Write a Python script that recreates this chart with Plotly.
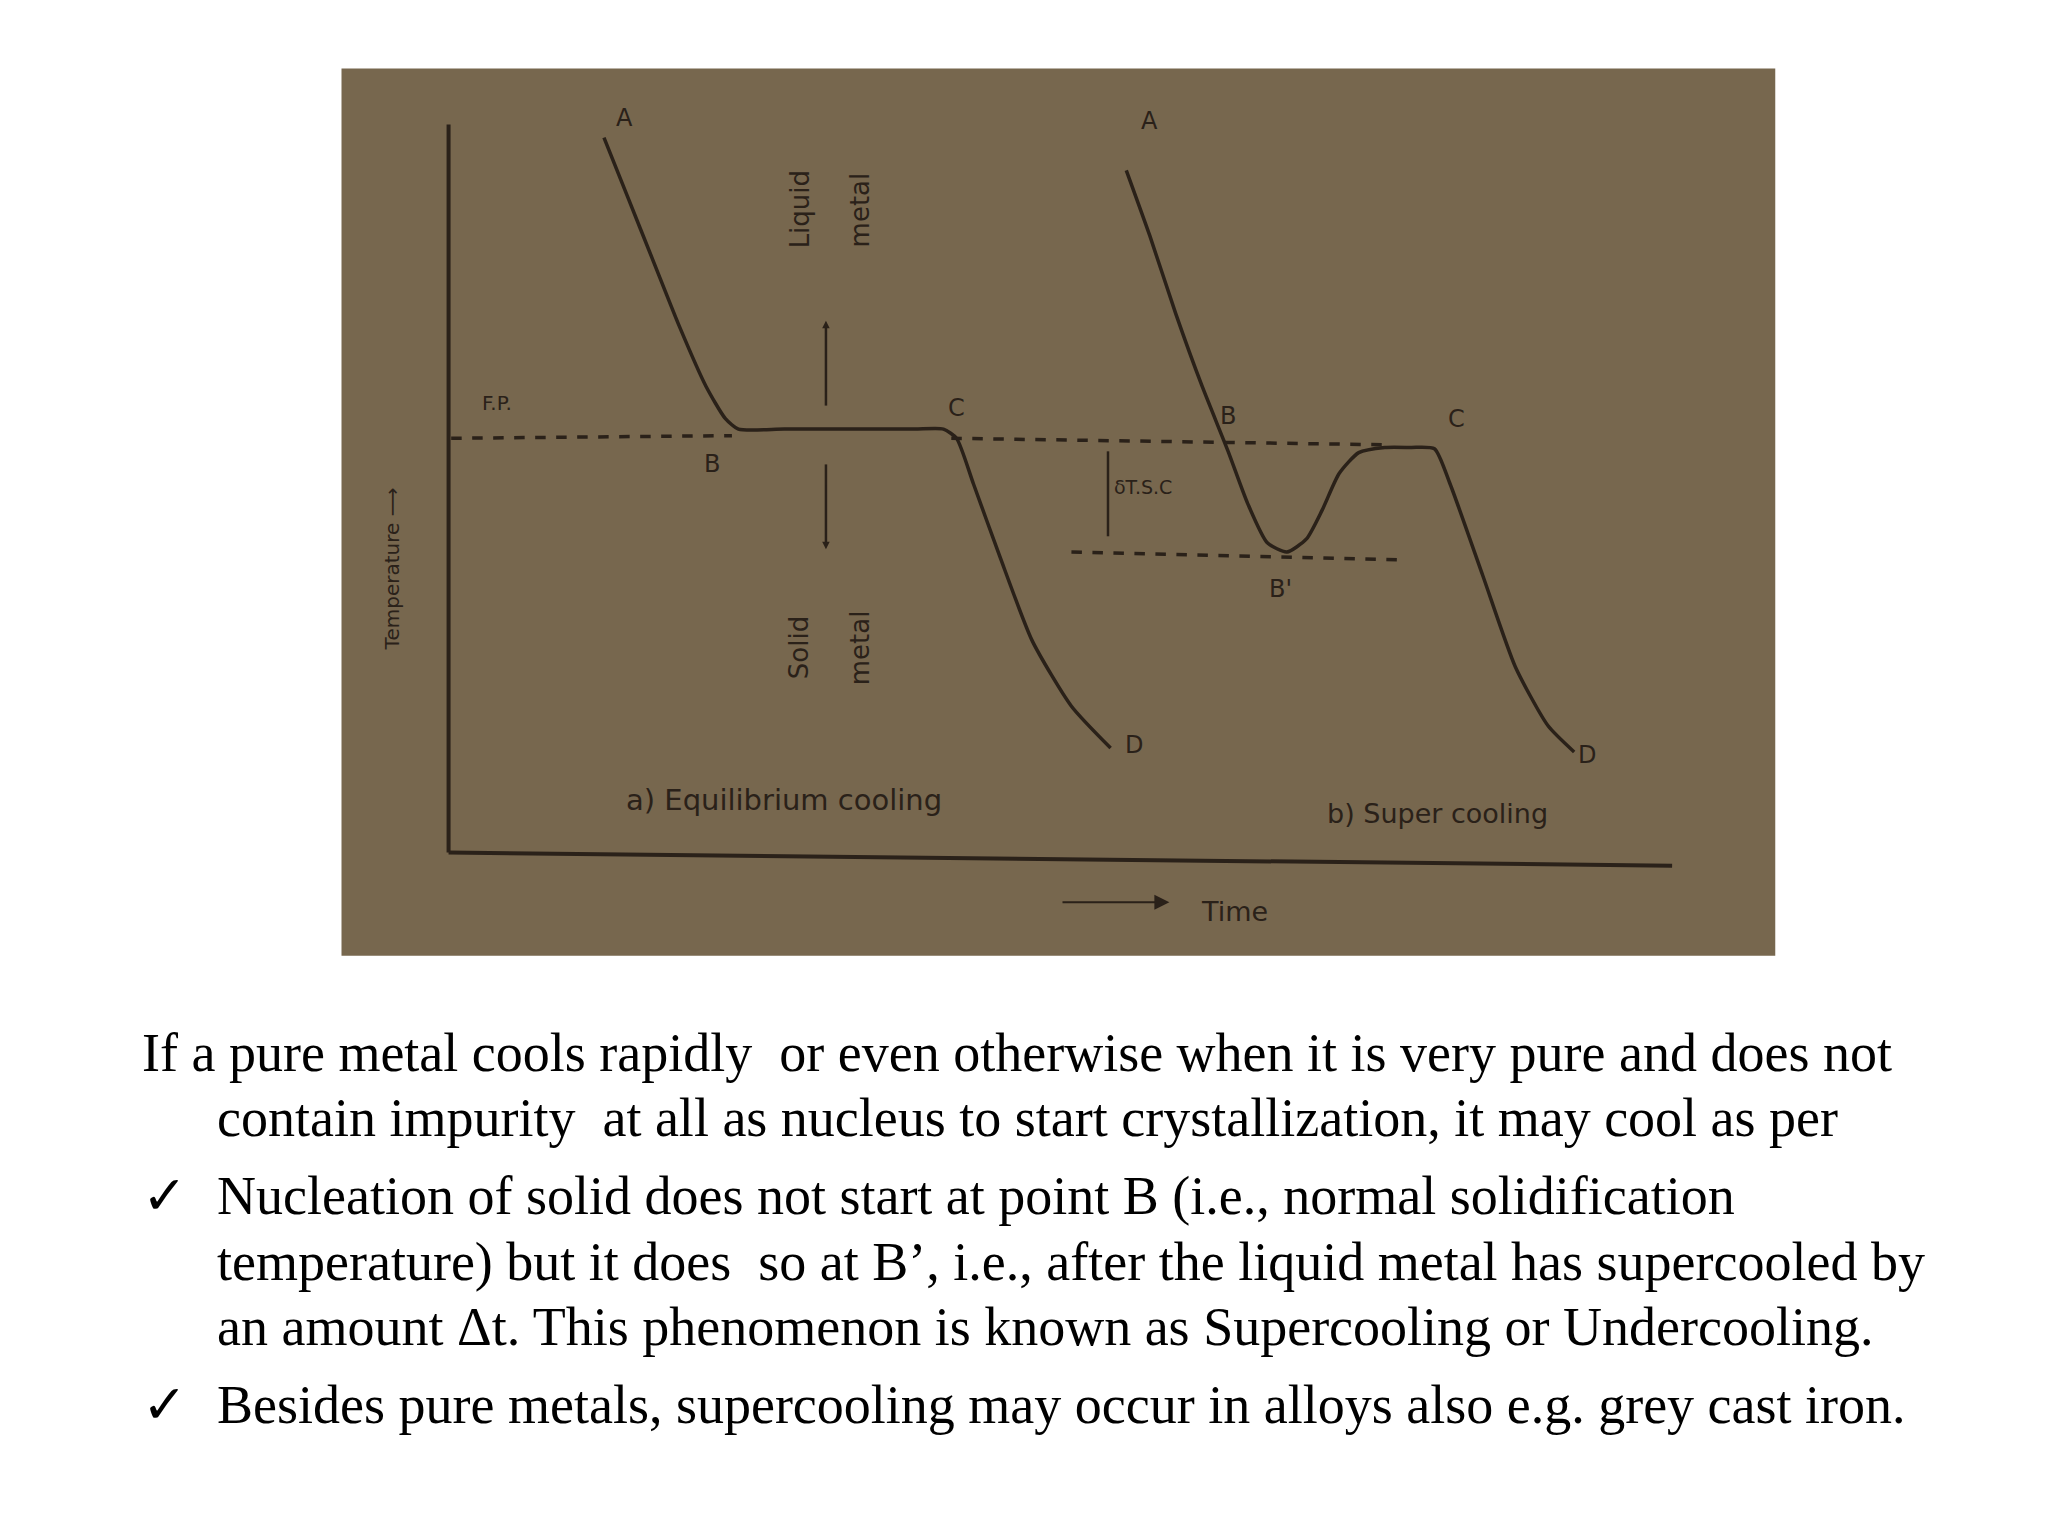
import plotly.graph_objects as go

# Curve data (time, temperature) in picture units (y grows downward)
eq_time = [462, 480, 500, 520, 540, 555, 565, 600, 650, 700, 722, 732, 745, 765, 790, 820, 850]
eq_temp = [105, 150, 200, 250, 295, 320, 328, 328, 328, 328, 328, 335, 370, 425, 490, 540, 572]
sc_time = [862, 880, 900, 920, 940, 955, 970, 985, 1000, 1012, 1025, 1040, 1060, 1080, 1098, 1110, 1135, 1160, 1185, 1205]
sc_temp = [130, 180, 240, 295, 345, 385, 415, 422, 412, 390, 362, 346, 342, 342, 343, 370, 440, 510, 555, 575]

text_lines = [
    (107, 805, "If a pure metal cools rapidly  or even otherwise when it is very pure and does not"),
    (164, 855, "contain impurity  at all as nucleus to start crystallization, it may cool as per"),
    (107, 915, "✓"),
    (164, 915, "Nucleation of solid does not start at point B (i.e., normal solidification"),
    (164, 965, "temperature) but it does  so at B’, i.e., after the liquid metal has supercooled by"),
    (164, 1015, "an amount Δt. This phenomenon is known as Supercooling or Undercooling."),
    (107, 1075, "✓"),
    (164, 1075, "Besides pure metals, supercooling may occur in alloys also e.g. grey cast iron."),
]

ink = "#2a2119"
fig = go.Figure()
fig.add_trace(go.Scatter(x=eq_time, y=eq_temp, mode="lines", line=dict(color=ink, width=3.5, shape="spline", smoothing=0.6), hoverinfo="skip"))
fig.add_trace(go.Scatter(x=sc_time, y=sc_temp, mode="lines", line=dict(color=ink, width=3.5, shape="spline", smoothing=0.6), hoverinfo="skip"))

shapes = [
    dict(type="rect", x0=261, x1=1359, y0=52, y1=731, fillcolor="#77674e", line=dict(width=0), layer="below"),
    dict(type="line", x0=343, x1=343, y0=95, y1=652, line=dict(color=ink, width=4)),
    dict(type="line", x0=343, x1=1280, y0=652, y1=662, line=dict(color=ink, width=4)),
    dict(type="line", x0=345, x1=560, y0=335, y1=333, line=dict(color=ink, width=3.5, dash="dash")),
    dict(type="line", x0=728, x1=1060, y0=335, y1=340, line=dict(color=ink, width=3.5, dash="dash")),
    dict(type="line", x0=820, x1=1075, y0=422, y1=428, line=dict(color=ink, width=3.5, dash="dash")),
    dict(type="line", x0=632, x1=632, y0=250, y1=310, line=dict(color=ink, width=2.5)),
    dict(type="line", x0=632, x1=632, y0=355, y1=415, line=dict(color=ink, width=2.5)),
    dict(type="line", x0=848, x1=848, y0=345, y1=410, line=dict(color=ink, width=2.5)),
]
fig.update_layout(shapes=shapes)

ann = []
def a(x, y, t, angle=0, size=24):
    ann.append(dict(x=x, y=y, text=t, showarrow=False, textangle=angle,
                    font=dict(color=ink, family="DejaVu Sans", size=size)))
a(478, 90, "A"); a(880, 92, "A")
a(545, 355, "B"); a(940, 318, "B"); a(980, 450, "B'")
a(732, 312, "C"); a(1115, 320, "C")
a(868, 570, "D"); a(1215, 577, "D")
a(380, 308, "F.P.", size=20)
a(875, 372, "δT.S.C", size=19)
a(612, 160, "Liquid", -90, 26); a(658, 160, "metal", -90, 26)
a(612, 495, "Solid", -90, 26); a(658, 495, "metal", -90, 26)
a(600, 612, "a) Equilibrium cooling", size=29)
a(1100, 622, "b) Super cooling", size=27)
a(945, 697, "Time", size=27)
a(300, 435, "Temperature ⟶", -90, size=20)
ann.append(dict(x=632, y=245, ax=632, ay=300, xref="x", yref="y", axref="x", ayref="y", showarrow=True, arrowhead=2, arrowsize=1.5, arrowcolor=ink, text=""))
ann.append(dict(x=632, y=420, ax=632, ay=370, xref="x", yref="y", axref="x", ayref="y", showarrow=True, arrowhead=2, arrowsize=1.5, arrowcolor=ink, text=""))
ann.append(dict(x=895, y=690, ax=812, ay=690, xref="x", yref="y", axref="x", ayref="y", showarrow=True, arrowhead=2, arrowsize=1.5, arrowwidth=2, arrowcolor=ink, text=""))
for x, y, t in text_lines:
    ann.append(dict(x=x, y=y, text=t, showarrow=False, xanchor="left",
                    font=dict(color="black", family="Liberation Serif", size=54)))
fig.update_layout(annotations=ann)

fig.update_layout(
    width=2048, height=1536, margin=dict(l=0, r=0, t=0, b=0),
    paper_bgcolor="white", plot_bgcolor="white", showlegend=False,
    xaxis=dict(range=[5.6, 1574], visible=False, fixedrange=True),
    yaxis=dict(range=[1181, 5.8], visible=False, fixedrange=True),
)
fig.write_html("out.html")
